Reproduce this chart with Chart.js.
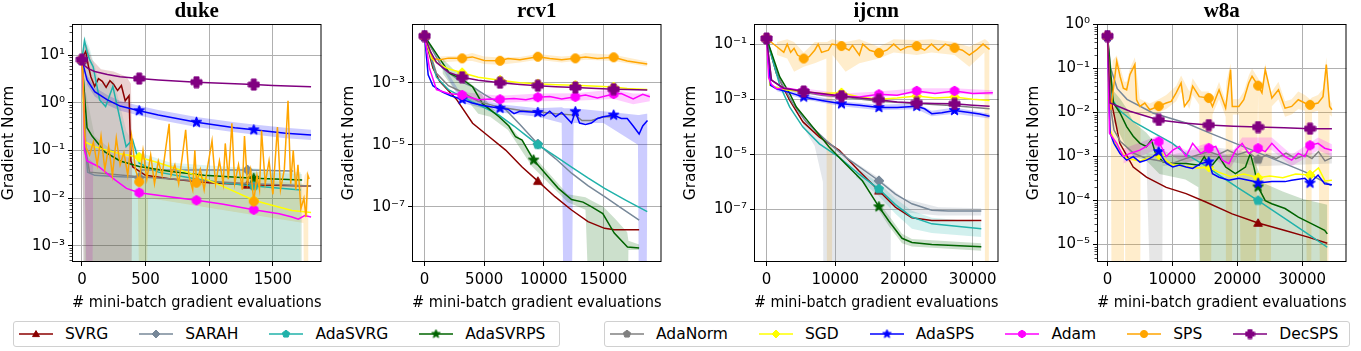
<!DOCTYPE html>
<html>
<head>
<meta charset="utf-8">
<title>Gradient Norm vs mini-batch gradient evaluations</title>
<script src="https://cdn.jsdelivr.net/npm/chart.js"></script>
<style>
    body { margin: 0; background: #fff; width: 1361px; height: 351px; overflow: hidden; position: relative; font-family: "DejaVu Sans", sans-serif; }
    .panel { position: absolute; top: 0; }
    .legend { position: absolute; top: 321px; height: 26px; border: 1px solid #d0d0d0; border-radius: 3px; display: flex; align-items: center; padding-left: 5px; box-sizing: border-box; background: #fff; }
    .item { display: flex; align-items: center; margin-right: 31px; font-size: 15.5px; color: #000; white-space: nowrap; }
    .item:last-child { margin-right: 0; }
    .item canvas { margin-right: 12px; }
</style>
</head>
<body>
<div class="panel" style="left:0px"><canvas id="duke" width="328" height="312"></canvas></div>
<div class="panel" style="left:340px"><canvas id="rcv1" width="328" height="312"></canvas></div>
<div class="panel" style="left:682px"><canvas id="ijcnn" width="323" height="312"></canvas></div>
<div class="panel" style="left:1025px"><canvas id="w8a" width="328" height="312"></canvas></div>
<div class="legend" id="legend1" style="left:13px; width:547px"></div>
<div class="legend" id="legend2" style="left:604px; width:746px"></div>

<script>
// methods, in plotting order
const names = ['SVRG', 'SARAH', 'AdaSVRG', 'AdaSVRPS', 'AdaNorm', 'SGD', 'AdaSPS', 'Adam', 'SPS', 'DecSPS'];
const colors = ['#8b0000', '#778899', '#20b2aa', '#006400', '#808080', '#ffff00', '#0000ff', '#ff00ff', '#ffa500', '#800080'];
const shapes = ['triangle', 'diamond', 'pentagon', 'star', 'pentagon', 'diamond', 'star', 'hexagon', 'circle', 'plus'];

// ---------- duke ----------
const dukeXTicks = [0, 500, 1000, 1500];
const dukeYTicks = [1e-3, 1e-2, 1e-1, 1e0, 1e1];
const duke_SVRG = [[0,8],[15,10],[30,12],[50,6],[70,3.5],[100,2.2],[130,3.2],[160,2.8],[190,2.1],[220,2.9],[250,2.4],[280,1.8],[310,2.3],[340,1.1],[370,1.4],[385,0.06],[400,0.045],[500,0.03],[700,0.025],[1000,0.021],[1300,0.019],[1800,0.018]];
const duke_SARAH = [[0,8],[20,1.5],[30,0.1],[45,0.035],[100,0.03],[300,0.028],[450,0.027],[470,0.039],[900,0.039],[1300,0.039],[1660,0.037]];
const duke_AdaSVRG = [[0,8],[20,20],[40,12],[60,8],[88,5.7],[139,1.14],[186,0.83],[243,2.2],[295,0.51],[347,0.12],[398,0.17],[450,0.054],[600,0.035],[900,0.025],[1100,0.021],[1350,0.018],[1720,0.0148]];
const duke_AdaSVRPS = [[0,8],[25,1],[40,0.3],[80,0.2],[180,0.093],[300,0.06],[450,0.046],[700,0.036],[960,0.03],[1350,0.026],[1730,0.024]];
const duke_AdaNorm = [[0,8],[20,0.5],[30,0.1],[60,0.035],[450,0.028],[900,0.023],[1350,0.02],[1800,0.018]];
const duke_SGD = [[0,8],[20,0.2],[26,0.15],[100,0.12],[200,0.1],[300,0.085],[450,0.072],[600,0.055],[900,0.03],[1100,0.018],[1350,0.009],[1500,0.007],[1650,0.0055],[1800,0.005]];
const duke_AdaSPS = [[0,8],[40,3.0],[100,1.7],[200,1.15],[300,0.85],[450,0.68],[600,0.55],[900,0.39],[1200,0.30],[1350,0.27],[1600,0.23],[1800,0.21]];
const duke_Adam = [[0,8],[15,1],[20,0.1],[40,0.06],[130,0.046],[260,0.024],[350,0.016],[450,0.013],[700,0.0105],[900,0.009],[1100,0.0075],[1350,0.0057],[1550,0.0047],[1650,0.004],[1700,0.0036],[1750,0.0043],[1800,0.004]];
const duke_SPS = [[0,8],[10,3],[20,0.3],[30,0.12],[60,0.08],[90,0.15],[120,0.05],[150,0.2],[180,0.04],[210,0.12],[240,0.03],[270,0.18],[300,0.05],[330,0.09],[360,0.03],[390,0.2],[420,0.04],[450,0.022],[480,0.1],[510,0.025],[540,0.08],[570,0.02],[600,0.06],[630,0.03],[660,0.12],[685,0.36],[700,0.03],[730,0.05],[760,0.02],[790,0.08],[815,0.27],[840,0.03],[870,0.015],[887,0.1],[900,0.021],[930,0.04],[960,0.015],[990,0.05],[1022,0.16],[1050,0.02],[1080,0.06],[1110,0.02],[1126,0.14],[1150,0.025],[1178,0.37],[1200,0.02],[1230,0.05],[1260,0.015],[1277,0.2],[1300,0.02],[1325,0.04],[1350,0.0085],[1375,0.03],[1395,0.015],[1411,0.26],[1440,0.02],[1470,0.06],[1500,0.012],[1536,0.31],[1560,0.015],[1590,0.04],[1619,1.1],[1640,0.02],[1660,0.1],[1680,0.015],[1697,0.05],[1720,0.006],[1744,0.01],[1760,0.004],[1775,0.03],[1785,0.025]];
const duke_DecSPS = [[0,8],[20,6],[50,5.2],[100,4.5],[200,3.9],[300,3.5],[450,3.2],[600,3.0],[900,2.7],[1200,2.5],[1350,2.4],[1500,2.3],[1800,2.15]];
const dukeMarks = [[0,1300],[0,450,1300],[0,1350],[0,1350],[0],[0,450,1350],[0,450,900,1350],[0,450,900,1350],[0,450,900,1350],[0,450,900,1350]];
// shaded bands: [x, low, high]
const duke_SVRG_band = [[0,6,10],[20,1e-6,18],[40,1e-6,16],[80,1e-6,8],[150,1e-6,5],[250,1e-6,4.5],[350,1e-6,3.5],[385,1e-6,2.5],[395,0.03,0.08]];
const duke_AdaSVRG_band = [[0,6,10],[20,1e-6,25],[60,1e-6,14],[140,1e-6,2.5],[250,1e-6,3],[350,1e-6,0.25],[450,1e-6,0.09],[700,1e-6,0.055],[1000,1e-6,0.048],[1350,1e-6,0.042],[1720,1e-6,0.035]];
const duke_AdaSVRPS_band = [[25,1e-6,2],[100,1e-6,0.2],[200,1e-6,0.12],[300,1e-6,0.08],[450,1e-6,0.06],[1000,1e-6,0.04],[1730,1e-6,0.032]];
const duke_AdaSPS_band = [[40,2.4,3.8],[100,1.35,2.1],[200,0.9,1.45],[300,0.68,1.08],[450,0.54,0.86],[600,0.44,0.7],[900,0.31,0.5],[1200,0.24,0.39],[1350,0.215,0.35],[1600,0.18,0.3],[1800,0.165,0.27]];
const duke_Adam_band = [[20,0.05,0.2],[50,1e-6,0.07],[75,1e-6,0.06],[90,0.035,0.055]];
const duke_SPS_band = [[440,0.01,0.04],[460,1e-6,0.06],[500,1e-6,0.05],[520,0.01,0.04],[1740,0.003,0.02],[1750,1e-6,0.03],[1780,1e-6,0.04]];

// ---------- rcv1 ----------
const rcv1XTicks = [0, 5000, 10000, 15000];
const rcv1YTicks = [1e-7, 1e-5, 1e-3];
const rcv1_SVRG = [[0,0.032],[700,0.003],[1270,0.0011],[2650,0.0003],[4030,0.000049],[5420,0.000018],[6800,0.0000067],[8180,0.0000019],[9500,0.00000067],[10940,0.00000021],[12330,0.000000078],[13710,0.000000033],[15100,0.00000002],[15910,0.000000018],[18000,0.000000018]];
const rcv1_SARAH = [[0,0.032],[1500,0.003],[3000,0.0011],[4000,0.00075],[5000,0.00042],[6330,0.00021],[8000,0.000045],[9500,0.0000105],[11000,0.0000035],[12330,0.0000012],[13700,0.00000048],[15100,0.00000021],[16600,0.000000085],[18000,0.000000037]];
const rcv1_AdaSVRG = [[0,0.032],[1000,0.0015],[2000,0.0006],[3150,0.00035],[4000,0.00024],[5140,0.00015],[6240,0.00009],[7500,0.00004],[8500,0.00002],[9500,0.00001],[11000,0.0000042],[12330,0.0000019],[13700,0.00000085],[15100,0.00000039],[16900,0.00000016],[18680,0.000000069]];
const rcv1_AdaSVRPS = [[0,0.032],[2100,0.002],[3150,0.0013],[4030,0.00074],[4860,0.00021],[5550,0.00013],[6240,0.00008],[7070,0.00004],[7630,0.000018],[8180,0.000014],[9150,0.0000032],[10110,0.0000012],[11220,0.00000039],[12330,0.00000017],[13290,0.00000014],[13980,0.0000001],[14950,0.00000006],[15910,0.000000014],[17020,0.000000005],[18000,0.0000000046]];
const rcv1_AdaNorm = [[0,0.032],[1000,0.002],[2000,0.0008],[3150,0.0005],[4500,0.00025],[6330,0.00016],[8000,0.00013],[9500,0.000115],[11000,0.0001],[12650,0.00009],[13200,0.00006],[14000,0.00006],[15000,0.00008],[16000,0.00008]];
const rcv1_SGD = [[0,0.032],[600,0.006],[1200,0.004],[2000,0.0028],[3150,0.0021],[4500,0.0015],[6330,0.0012],[8000,0.001],[9500,0.00092],[11000,0.00086],[12650,0.00082],[14000,0.00078],[15860,0.00072],[17000,0.00065],[18680,0.0006]];
const rcv1_AdaSPS = [[0,0.032],[300,0.0018],[700,0.0008],[1500,0.0005],[2200,0.00038],[3150,0.00029],[4000,0.00022],[5000,0.00018],[6330,0.00015],[7000,0.00014],[7500,0.0001],[8000,0.00012],[9500,0.00011],[10000,0.000085],[10500,0.00012],[11000,0.00008],[11500,0.00011],[12330,0.00005],[12650,0.000116],[13000,0.00005],[13500,0.000045],[14000,0.00005],[14500,0.00007],[15000,0.00008],[15860,0.00009],[16500,0.00007],[17000,0.00007],[17500,0.00004],[18000,0.000022],[18300,0.00004],[18700,0.00006]];
const rcv1_Adam = [[0,0.032],[400,0.003],[1000,0.0006],[2000,0.00045],[3150,0.0004],[4500,0.00028],[5500,0.0003],[6330,0.00029],[7500,0.00031],[8500,0.00028],[9500,0.00034],[10500,0.00036],[11500,0.0003],[12650,0.00035],[13500,0.0004],[14500,0.00032],[15860,0.00043],[16500,0.00045],[17500,0.0003],[18300,0.00042],[18900,0.00035]];
const rcv1_SPS = [[0,0.032],[700,0.006],[1300,0.0055],[2000,0.0062],[3150,0.0061],[4000,0.0068],[5000,0.0052],[6330,0.0051],[7000,0.006],[8000,0.0055],[9500,0.0069],[10500,0.006],[11500,0.0055],[12650,0.0061],[13500,0.0068],[14500,0.006],[15860,0.0066],[17000,0.005],[18680,0.004]];
const rcv1_DecSPS = [[0,0.032],[500,0.01],[1000,0.0045],[2000,0.0022],[3150,0.0015],[4500,0.0012],[6330,0.001],[8000,0.00088],[9500,0.0008],[11000,0.00074],[12650,0.0007],[14000,0.00066],[15860,0.00062],[17000,0.0006],[18680,0.00058]];
const rcv1Marks = [[0,9500],[0,9500],[0,9500],[0,9150],[0],[0,3150,6330,9500,12650,15860],[0,3150,6330,9500,12650,15860],[0,3150,6330,9500,12650,15860],[0,3150,6330,9500,12650,15860],[0,3150,6330,9500,12650,15860]];
const rcv1_AdaSVRPS_band = [[1500,0.002,0.006],[2500,0.0006,0.0025],[3500,0.0003,0.0012],[4500,0.0001,0.0006],[5500,0.00008,0.00018],[7000,0.00003,0.00005],[9000,0.000002,0.000005],[12000,0.00000014,0.00000025],[13500,0.00000008,0.0000002],[13950,1e-12,0.00000016],[15000,1e-12,0.0000001],[16000,1e-12,0.00000004],[17000,1e-12,0.000000015],[17100,0.000000004,0.000000008],[18000,0.000000004,0.000000006]];
const rcv1_AdaSPS_band = [[0,0.03,0.035],[3150,0.00022,0.00038],[6330,0.00011,0.0002],[9500,0.00008,0.00015],[11500,0.00005,0.00016],[11700,1e-12,0.00015],[12300,1e-12,0.00015],[12500,0.00005,0.00015],[15000,0.00005,0.00012],[17900,0.00001,0.00009],[18000,1e-12,0.00009],[18600,1e-12,0.0001],[18700,0.00003,0.0001]];
const rcv1_Adam_band = [[3150,0.0003,0.0005],[6330,0.00022,0.00038],[9500,0.00025,0.00045],[12650,0.00026,0.00046],[15860,0.0003,0.0006],[17500,0.0002,0.00045],[18900,0.00025,0.00045]];
const rcv1_SPS_band = [[1300,0.0045,0.007],[3150,0.005,0.0075],[4000,0.005,0.009],[5000,0.004,0.007],[6330,0.0038,0.0065],[8000,0.0045,0.0068],[9500,0.0055,0.0085],[11500,0.0045,0.007],[12650,0.005,0.0075],[13500,0.0055,0.009],[15860,0.005,0.008],[18680,0.0033,0.0048]];

// ---------- ijcnn ----------
const ijcnnXTicks = [0, 10000, 20000, 30000];
const ijcnnYTicks = [1e-7, 1e-5, 1e-3, 1e-1];
const ijcnn_SVRG = [[0,0.16],[1440,0.0085],[3370,0.00091],[5290,0.00015],[7690,0.000042],[10580,0.000014],[13460,0.0000025],[16350,0.00000048],[18750,0.00000012],[21150,0.00000005],[24040,0.00000004],[31250,0.00000004]];
const ijcnn_SARAH = [[0,0.16],[1920,0.0049],[3850,0.00068],[5770,0.00015],[8650,0.000032],[11540,0.0000078],[16350,0.0000011],[18750,0.00000036],[21150,0.00000016],[24040,0.000000094],[26440,0.000000087],[31250,0.000000087]];
const ijcnn_AdaSVRG = [[0,0.16],[1920,0.0032],[3370,0.00052],[5290,0.000097],[7690,0.000024],[10580,0.0000078],[13460,0.0000019],[16350,0.00000055],[18750,0.00000015],[21150,0.000000053],[24040,0.00000003],[31250,0.00000002]];
const ijcnn_AdaSVRPS = [[0,0.16],[1920,0.0064],[3370,0.0016],[4330,0.00052],[6730,0.000097],[9130,0.000018],[11540,0.0000044],[13940,0.0000011],[16350,0.000000125],[17790,0.000000038],[19710,0.000000009],[21150,0.0000000063],[24040,0.0000000054],[31250,0.0000000044]];
const ijcnn_AdaNorm = [[0,0.16],[700,0.005],[2500,0.0024],[5400,0.0018],[8000,0.0014],[10900,0.0012],[16350,0.00085],[21850,0.0007],[27350,0.00058],[32450,0.00045]];
const ijcnn_SGD = [[0,0.16],[480,0.0032],[2500,0.0022],[5400,0.0019],[8000,0.0016],[10900,0.0017],[13500,0.0012],[16350,0.001],[19000,0.0011],[21850,0.0013],[24500,0.0011],[27350,0.0012],[30000,0.001],[32450,0.0009]];
const ijcnn_AdaSPS = [[0,0.16],[580,0.0032],[1440,0.0024],[3500,0.0017],[5400,0.0012],[8000,0.0009],[10900,0.00068],[13500,0.0006],[16350,0.0005],[19000,0.0005],[21850,0.00055],[23000,0.00045],[24040,0.0003],[25500,0.00032],[27350,0.00039],[29500,0.00033],[31000,0.00029],[32450,0.00024]];
const ijcnn_Adam = [[0,0.16],[300,0.006],[700,0.0035],[1440,0.0024],[3000,0.0025],[5400,0.002],[8000,0.0015],[10900,0.0013],[13500,0.0012],[16350,0.0015],[19000,0.0014],[21850,0.002],[24500,0.0016],[27350,0.002],[30000,0.0016],[32930,0.0017]];
const ijcnn_SPS = [[0,0.16],[1500,0.08],[2500,0.05],[3000,0.1],[3500,0.05],[4000,0.07],[4500,0.04],[5400,0.03],[6200,0.035],[7000,0.06],[7500,0.1],[8000,0.05],[9000,0.06],[9500,0.1],[10900,0.085],[12000,0.06],[12500,0.09],[13500,0.04],[14000,0.1],[15000,0.06],[16350,0.048],[17500,0.06],[18500,0.1],[19500,0.06],[20500,0.08],[21850,0.085],[23000,0.06],[24000,0.1],[25000,0.06],[26000,0.1],[27350,0.073],[28500,0.06],[29500,0.04],[30500,0.06],[31500,0.1],[32450,0.064]];
const ijcnn_DecSPS = [[0,0.16],[720,0.0049],[2500,0.0025],[5400,0.0019],[8000,0.0016],[10900,0.0013],[13500,0.0011],[16350,0.00095],[19000,0.0008],[21850,0.00073],[24500,0.0007],[27350,0.00068],[30000,0.0006],[32450,0.00055]];
const ijcnnMarks = [[0,16350],[0,16350],[0,16350],[0,16350],[0],[0,5400,10900,16350,21850,27350],[0,5400,10900,16350,21850,27350],[0,5400,10900,16350,21850,27350],[0,5400,10900,16350,21850,27350],[0,5400,10900,16350,21850,27350]];
const ijcnn_SARAH_band = [[5300,0.0001,0.00022],[7000,0.00002,0.00008],[8200,0.000001,0.00004],[8300,1e-12,0.00004],[12000,1e-12,0.000007],[16000,1e-12,0.0000016],[18000,1e-12,0.0000006],[18100,0.00000015,0.0000006],[20000,0.00000008,0.00000025],[25000,0.00000006,0.00000012],[31250,0.00000006,0.00000011]];
const ijcnn_AdaSVRG_band = [[13000,0.0000015,0.0000035],[16350,0.0000003,0.0000009],[18750,0.00000007,0.00000025],[21150,0.00000002,0.00000009],[24040,0.000000014,0.00000005],[31250,0.00000001,0.000000035]];
const ijcnn_AdaSVRPS_band = [[16350,0.00000009,0.00000018],[17790,0.000000025,0.00000006],[19710,0.000000006,0.000000013],[21150,0.0000000045,0.0000000085],[31250,0.0000000032,0.000000006]];
const ijcnn_AdaSPS_band = [[1440,0.002,0.003],[5400,0.001,0.0015],[10900,0.00055,0.00085],[16350,0.0004,0.00063],[21850,0.00043,0.0007],[24040,0.00024,0.00038],[27350,0.0003,0.0005],[32450,0.0002,0.0003]];
const ijcnn_Adam_band = [[5400,0.0016,0.0025],[10900,0.001,0.0016],[16350,0.0012,0.0019],[21850,0.0016,0.0025],[27350,0.0016,0.0025],[32930,0.0014,0.0021]];
const ijcnn_SPS_band = [[1500,0.04,0.12],[3000,0.03,0.15],[4000,0.01,0.12],[5400,0.015,0.05],[7000,0.02,0.12],[8700,0.03,0.12],[8800,1e-12,0.12],[9500,1e-12,0.15],[9600,0.04,0.15],[11500,0.01,0.12],[13500,0.02,0.15],[16350,0.03,0.08],[18500,0.05,0.15],[21850,0.04,0.14],[24000,0.05,0.15],[27350,0.04,0.12],[29500,0.015,0.08],[31700,0.05,0.15],[31800,1e-12,0.15],[32300,1e-12,0.12],[32450,0.03,0.1]];

// ---------- w8a ----------
const w8aXTicks = [0, 10000, 20000, 30000];
const w8aYTicks = [1e-5, 1e-4, 1e-3, 1e-2, 1e-1, 1e0];
const w8a_SVRG = [[0,0.55],[700,0.015],[1900,0.002],[3965,0.00058],[6000,0.00034],[9050,0.0002],[12100,0.000144],[15150,0.000093],[19200,0.00005],[23200,0.000031],[27350,0.000021],[30900,0.0000148],[33860,0.0000107]];
const w8a_SARAH = [[0,0.55],[500,0.1],[1500,0.035],[3000,0.02],[7000,0.0098],[12100,0.0058],[15600,0.0035],[22270,0.0014],[30400,0.00045],[34470,0.00022]];
const w8a_AdaSVRG = [[0,0.55],[300,0.05],[700,0.02],[1930,0.011],[4000,0.0062],[7016,0.0035],[10000,0.002],[12100,0.00114],[15000,0.00063],[17184,0.00038],[20000,0.0002],[23200,0.0001],[27350,0.000039],[30500,0.000019],[33860,0.0000087]];
const w8a_AdaSVRPS = [[0,0.55],[915,0.0165],[1930,0.0098],[2950,0.0048],[3965,0.0029],[5000,0.002],[6000,0.0017],[6760,0.0024],[7400,0.00118],[8540,0.00076],[10000,0.0007],[12100,0.0007],[14100,0.00064],[14900,0.001],[15900,0.00058],[17200,0.001],[18200,0.00058],[19700,0.00041],[21250,0.00058],[22000,0.00118],[22600,0.00054],[23200,0.000204],[24300,0.0001],[25300,0.000085],[27350,0.000066],[29400,0.000042],[31400,0.00003],[33450,0.000021],[33860,0.0000175]];
const w8a_AdaNorm = [[0,0.55],[300,0.02],[1000,0.004],[2000,0.0022],[4000,0.0012],[6000,0.0009],[8000,0.0008],[10000,0.0007],[12000,0.0009],[14000,0.0011],[15560,0.0013],[17000,0.0011],[18500,0.0014],[20000,0.0011],[21500,0.0013],[23200,0.00086],[24500,0.0011],[26000,0.0009],[27500,0.0012],[29000,0.0009],[30500,0.0011],[31500,0.0009],[32500,0.0013],[33500,0.0008],[34570,0.00095]];
const w8a_SGD = [[0,0.55],[400,0.004],[1500,0.0016],[3000,0.0009],[5000,0.0008],[7900,0.0011],[10000,0.00065],[12000,0.0006],[14000,0.00055],[15600,0.00058],[17000,0.00045],[19000,0.00035],[21000,0.0004],[23200,0.00033],[25000,0.00036],[27000,0.00033],[29000,0.0004],[31200,0.00038],[32500,0.00055],[33500,0.00028],[34570,0.00029]];
const w8a_AdaSPS = [[0,0.55],[400,0.0034],[1000,0.002],[1930,0.00118],[2950,0.00083],[3965,0.001],[5000,0.00075],[6000,0.00083],[7000,0.001],[7900,0.0013],[9050,0.0007],[10070,0.00058],[11080,0.00064],[12100,0.00058],[13120,0.00054],[14390,0.0007],[15600,0.00076],[16170,0.00041],[17180,0.00034],[18700,0.00029],[20230,0.00032],[22270,0.00028],[23200,0.00025],[25320,0.00027],[27350,0.00027],[28370,0.00029],[30400,0.00032],[31200,0.00025],[32430,0.00038],[33450,0.00024],[34570,0.00023]];
const w8a_Adam = [[0,0.55],[305,0.0034],[1424,0.002],[2440,0.001],[3457,0.00118],[4982,0.0014],[6000,0.0017],[7016,0.0024],[7900,0.0022],[9050,0.001],[10066,0.0014],[11083,0.0017],[12100,0.001],[13117,0.002],[14387,0.00118],[15600,0.00155],[16675,0.0017],[17692,0.00083],[18709,0.00069],[19725,0.0014],[20742,0.002],[21759,0.00118],[23200,0.00155],[24301,0.0013],[25318,0.002],[26335,0.0014],[27351,0.001],[28368,0.00083],[29385,0.00118],[30402,0.001],[31200,0.0018],[32435,0.002],[33452,0.00155],[34570,0.0014]];
const w8a_SPS = [[0,0.55],[508,0.0116],[1424,0.148],[1932,0.067],[2440,0.036],[2949,0.033],[3457,0.073],[4220,0.124],[4474,0.0196],[4982,0.0138],[5745,0.0165],[6507,0.0116],[7900,0.014],[9049,0.0165],[9812,0.018],[10575,0.028],[11337,0.047],[11846,0.0138],[12608,0.0196],[13117,0.04],[14133,0.023],[15600,0.0214],[16167,0.0138],[17184,0.033],[18200,0.0126],[18963,0.095],[19217,0.0138],[20234,0.0138],[20996,0.0196],[21759,0.047],[22267,0.067],[23200,0.041],[23793,0.028],[24301,0.095],[25318,0.0214],[26335,0.033],[27351,0.0126],[28368,0.0138],[29385,0.0196],[30402,0.0165],[31200,0.015],[32435,0.0165],[33198,0.023],[33706,0.124],[34215,0.0138],[34570,0.0116]];
const w8a_DecSPS = [[0,0.55],[400,0.0165],[3460,0.0107],[7900,0.0068],[11700,0.0058],[15600,0.0052],[19400,0.0049],[23200,0.0047],[27200,0.0045],[31200,0.0043],[34570,0.0043]];
const w8aMarks = [[0,23200],[0],[0,23200],[0,23200],[0,23200],[0,7900,15600,23200,31200],[0,7900,15600,23200,31200],[0,7900,15600,23200,31200],[0,7900,15600,23200,31200],[0,7900,15600,23200,31200]];
const w8a_AdaSVRPS_band = [[1000,0.006,0.03],[2000,0.003,0.02],[3000,0.0015,0.012],[4000,0.001,0.006],[6000,0.0008,0.0035],[8000,0.0004,0.0015],[10000,0.00035,0.0011],[12000,0.0003,0.0011],[14000,0.0002,0.001],[15000,1e-12,0.0012],[18000,1e-12,0.0011],[21000,1e-12,0.0012],[22500,1e-12,0.0009],[24000,1e-12,0.00025],[27000,1e-12,0.00016],[30000,1e-12,0.00011],[33860,1e-12,0.00008]];
const w8a_AdaNorm_band = [[6000,0.0007,0.0012],[7800,1e-12,0.0011],[8300,1e-12,0.001],[8500,0.0006,0.001],[15600,0.0009,0.0017],[23200,0.0006,0.0012],[34570,0.0007,0.0012]];
const w8a_Adam_band = [[2440,0.0007,0.0015],[7900,0.0015,0.003],[12100,0.0007,0.0014],[15600,0.0011,0.0021],[18709,0.0005,0.001],[20742,0.0014,0.0027],[25318,0.0014,0.0027],[28368,0.0006,0.0011],[32435,0.0014,0.0027],[34570,0.001,0.0019]];
const w8a_SPS_band = [[508,0.008,0.02],[800,1e-12,0.15],[1424,1e-12,0.2],[2440,1e-12,0.06],[2600,0.02,0.05],[2949,1e-12,0.05],[3457,1e-12,0.1],[4220,1e-12,0.18],[4982,1e-12,0.02],[5100,0.009,0.02],[6507,0.008,0.016],[7900,0.01,0.02],[9049,0.012,0.025],[10575,0.018,0.04],[11337,0.03,0.07],[12608,0.012,0.03],[13117,0.025,0.06],[14133,0.015,0.035],[14500,1e-12,0.03],[15600,1e-12,0.03],[16167,0.009,0.02],[17184,0.02,0.05],[18200,0.008,0.018],[18300,1e-12,0.05],[18963,1e-12,0.13],[19300,0.009,0.02],[20234,0.009,0.02],[20996,1e-12,0.03],[21759,1e-12,0.07],[22267,1e-12,0.1],[23200,0.025,0.06],[23793,1e-12,0.04],[24301,1e-12,0.13],[24900,1e-12,0.03],[25318,0.014,0.03],[26335,0.02,0.05],[27351,0.008,0.018],[28368,0.009,0.02],[29385,0.012,0.03],[30402,0.011,0.025],[31200,1e-12,0.02],[31500,0.01,0.022],[32435,0.011,0.025],[33198,1e-12,0.035],[33706,1e-12,0.18],[34215,0.009,0.02],[34570,0.008,0.016]];

// ---------- helpers ----------
const SUP = {'-': '⁻', '0': '⁰', '1': '¹', '2': '²', '3': '³', '4': '⁴', '5': '⁵', '6': '⁶', '7': '⁷', '8': '⁸', '9': '⁹'};
function powLabel(v) {
    const e = Math.round(Math.log10(v));
    return '10' + String(e).split('').map(c => SUP[c]).join('');
}

function rgba(hex, a) {
    const n = parseInt(hex.slice(1), 16);
    return 'rgba(' + (n >> 16) + ',' + ((n >> 8) & 255) + ',' + (n & 255) + ',' + a + ')';
}

function polyPath(g, cx, cy, r, n, startDeg) {
    for (let i = 0; i < n; i++) {
        const a = (startDeg + i * 360 / n) * Math.PI / 180;
        const px = cx + r * Math.cos(a), py = cy + r * Math.sin(a);
        if (i === 0) g.moveTo(px, py); else g.lineTo(px, py);
    }
}

// marker glyphs drawn once, then used as pointStyle images
function markerCanvas(shape, color, size) {
    const c = document.createElement('canvas');
    c.width = c.height = size + 2;
    const g = c.getContext('2d');
    const r = size / 2, cx = c.width / 2, cy = c.height / 2;
    g.fillStyle = color;
    g.strokeStyle = color;
    g.lineWidth = 1;
    g.beginPath();
    if (shape === 'circle') {
        g.arc(cx, cy, r * 0.9, 0, 2 * Math.PI);
    } else if (shape === 'triangle') {
        polyPath(g, cx, cy + r * 0.15, r, 3, -90);
    } else if (shape === 'diamond') {
        polyPath(g, cx, cy, r, 4, -90);
    } else if (shape === 'pentagon') {
        polyPath(g, cx, cy, r * 0.95, 5, -90);
    } else if (shape === 'hexagon') {
        polyPath(g, cx, cy, r * 0.95, 6, -90);
    } else if (shape === 'star') {
        for (let i = 0; i < 10; i++) {
            const a = (-90 + i * 36) * Math.PI / 180;
            const rr = i % 2 === 0 ? r : r * 0.42;
            const px = cx + rr * Math.cos(a), py = cy + rr * Math.sin(a);
            if (i === 0) g.moveTo(px, py); else g.lineTo(px, py);
        }
    } else if (shape === 'plus') {
        const w = r * 0.45;
        g.moveTo(cx - w, cy - r); g.lineTo(cx + w, cy - r); g.lineTo(cx + w, cy - w);
        g.lineTo(cx + r, cy - w); g.lineTo(cx + r, cy + w); g.lineTo(cx + w, cy + w);
        g.lineTo(cx + w, cy + r); g.lineTo(cx - w, cy + r); g.lineTo(cx - w, cy + w);
        g.lineTo(cx - r, cy + w); g.lineTo(cx - r, cy - w); g.lineTo(cx - w, cy - w);
    }
    g.closePath();
    g.fill();
    g.stroke();
    return c;
}

const markerImgs = shapes.map((s, i) => markerCanvas(s, colors[i], s === 'star' || s === 'plus' ? 11 : 10));
const legendImgs = shapes.map((s, i) => markerCanvas(s, colors[i], s === 'star' || s === 'plus' ? 9 : 8));

const framePlugin = {
    id: 'frame',
    afterDatasetsDraw(chart) {
        const {ctx, chartArea: a} = chart;
        ctx.save();
        ctx.strokeStyle = '#000';
        ctx.lineWidth = 1;
        ctx.strokeRect(a.left + 0.5, a.top + 0.5, a.right - a.left - 1, a.bottom - a.top - 1);
        ctx.restore();
    }
};

function titlePlugin(text) {
    return {
        id: 'panelTitle',
        afterDraw(chart) {
            const {ctx, chartArea: a} = chart;
            ctx.save();
            ctx.font = 'bold 21px "Liberation Serif"';
            ctx.fillStyle = '#000';
            ctx.textAlign = 'center';
            ctx.textBaseline = 'alphabetic';
            ctx.fillText(text, (a.left + a.right) / 2, 17);
            ctx.restore();
        }
    };
}

const minorTicksPlugin = {
    id: 'minorTicks',
    afterDraw(chart) {
        const {ctx, chartArea: a} = chart;
        const y = chart.scales.y;
        ctx.save();
        ctx.strokeStyle = '#000';
        ctx.lineWidth = 0.7;
        for (let e = Math.floor(Math.log10(y.min)); e <= Math.ceil(Math.log10(y.max)); e++) {
            for (let k = 2; k <= 9; k++) {
                const v = k * Math.pow(10, e);
                if (v < y.min || v > y.max) continue;
                const py = Math.round(y.getPixelForValue(v)) + 0.5;
                ctx.beginPath();
                ctx.moveTo(a.left, py);
                ctx.lineTo(a.left - 2.5, py);
                ctx.stroke();
            }
        }
        ctx.restore();
    }
};

function buildPanel(id, title, series, marks, bands, xTicks, yTicks, xmin, xmax, ymin, ymax, minor) {
    const datasets = [];
    bands.forEach((b, k) => {
        const loIdx = datasets.length;
        datasets.push({
            data: b.data.map(p => ({x: p[0], y: p[1]})),
            borderWidth: 0, pointRadius: 0, fill: false, order: 1000 + 2 * k
        });
        datasets.push({
            data: b.data.map(p => ({x: p[0], y: p[2]})),
            borderWidth: 0, pointRadius: 0, fill: loIdx,
            backgroundColor: rgba(colors[b.s], b.a || 0.2), order: 1000 + 2 * k + 1
        });
    });
    series.forEach((s, i) => {
        const m = marks[i];
        datasets.push({
            label: names[i],
            data: s.map(p => ({x: p[0], y: p[1]})),
            borderColor: colors[i],
            backgroundColor: colors[i],
            borderWidth: 1.5,
            tension: 0,
            fill: false,
            pointStyle: markerImgs[i],
            pointRadius: c => (c.raw && m.includes(c.raw.x)) ? 5 : 0,
            pointHoverRadius: 0,
            order: 100 - i
        });
    });

    const tickFont = {family: 'DejaVu Sans', size: 15};
    const labelFont = {family: 'DejaVu Sans', size: 15.5};
    const plugins = [framePlugin, titlePlugin(title)];
    if (minor) plugins.push(minorTicksPlugin);

    new Chart(document.getElementById(id).getContext('2d'), {
        type: 'line',
        data: {datasets: datasets},
        options: {
            responsive: false,
            animation: false,
            events: [],
            layout: {padding: {top: 24, right: 4, left: 0, bottom: 0}},
            plugins: {legend: {display: false}, tooltip: {enabled: false}, title: {display: false}},
            scales: {
                x: {
                    type: 'linear', min: xmin, max: xmax,
                    afterBuildTicks: s => { s.ticks = xTicks.map(v => ({value: v})); },
                    afterFit: s => { s.height = 50; },
                    ticks: {callback: v => String(v), font: tickFont, color: '#000', padding: 5, maxRotation: 0, autoSkip: false},
                    grid: {color: '#b0b0b0', lineWidth: 1, tickColor: '#000', tickLength: 4},
                    border: {display: false},
                    title: {display: true, text: '# mini-batch gradient evaluations', font: labelFont, color: '#000', padding: 0}
                },
                y: {
                    type: 'logarithmic', min: ymin, max: ymax,
                    afterBuildTicks: s => { s.ticks = yTicks.map(v => ({value: v})); },
                    afterFit: s => { s.width = 72; },
                    ticks: {callback: v => powLabel(v), font: tickFont, color: '#000', padding: 3, autoSkip: false},
                    grid: {color: '#b0b0b0', lineWidth: 1, tickColor: '#000', tickLength: 4},
                    border: {display: false},
                    title: {display: true, text: 'Gradient Norm', font: labelFont, color: '#000', padding: 0}
                }
            }
        },
        plugins: plugins
    });
}

buildPanel('duke', 'duke',
    [duke_SVRG, duke_SARAH, duke_AdaSVRG, duke_AdaSVRPS, duke_AdaNorm, duke_SGD, duke_AdaSPS, duke_Adam, duke_SPS, duke_DecSPS],
    dukeMarks,
    [{s: 0, data: duke_SVRG_band, a: 0.18}, {s: 2, data: duke_AdaSVRG_band, a: 0.15}, {s: 3, data: duke_AdaSVRPS_band, a: 0.1},
     {s: 6, data: duke_AdaSPS_band}, {s: 7, data: duke_Adam_band}, {s: 8, data: duke_SPS_band}],
    dukeXTicks, dukeYTicks, -78, 1882, 4.57e-4, 44.7, true);

buildPanel('rcv1', 'rcv1',
    [rcv1_SVRG, rcv1_SARAH, rcv1_AdaSVRG, rcv1_AdaSVRPS, rcv1_AdaNorm, rcv1_SGD, rcv1_AdaSPS, rcv1_Adam, rcv1_SPS, rcv1_DecSPS],
    rcv1Marks,
    [{s: 3, data: rcv1_AdaSVRPS_band}, {s: 6, data: rcv1_AdaSPS_band}, {s: 7, data: rcv1_Adam_band}, {s: 8, data: rcv1_SPS_band}],
    rcv1XTicks, rcv1YTicks, -1055, 19875, 1.64e-9, 0.0783, false);

buildPanel('ijcnn', 'ijcnn',
    [ijcnn_SVRG, ijcnn_SARAH, ijcnn_AdaSVRG, ijcnn_AdaSVRPS, ijcnn_AdaNorm, ijcnn_SGD, ijcnn_AdaSPS, ijcnn_Adam, ijcnn_SPS, ijcnn_DecSPS],
    ijcnnMarks,
    [{s: 1, data: ijcnn_SARAH_band}, {s: 2, data: ijcnn_AdaSVRG_band}, {s: 3, data: ijcnn_AdaSVRPS_band},
     {s: 6, data: ijcnn_AdaSPS_band}, {s: 7, data: ijcnn_Adam_band}, {s: 8, data: ijcnn_SPS_band}],
    ijcnnXTicks, ijcnnYTicks, -1832, 33750, 1.24e-9, 0.536, false);

buildPanel('w8a', 'w8a',
    [w8a_SVRG, w8a_SARAH, w8a_AdaSVRG, w8a_AdaSVRPS, w8a_AdaNorm, w8a_SGD, w8a_AdaSPS, w8a_Adam, w8a_SPS, w8a_DecSPS],
    w8aMarks,
    [{s: 3, data: w8a_AdaSVRPS_band}, {s: 4, data: w8a_AdaNorm_band}, {s: 7, data: w8a_Adam_band}, {s: 8, data: w8a_SPS_band}],
    w8aXTicks, w8aYTicks, -1617, 36815, 4.02e-6, 1.032, true);

// legends: variance-reduced methods left, the rest right
function legendItem(i) {
    const div = document.createElement('div');
    div.className = 'item';
    const c = document.createElement('canvas');
    c.width = 34;
    c.height = 14;
    const g = c.getContext('2d');
    g.strokeStyle = colors[i];
    g.lineWidth = 1.5;
    g.beginPath();
    g.moveTo(0, 7);
    g.lineTo(34, 7);
    g.stroke();
    const m = legendImgs[i];
    g.drawImage(m, 17 - m.width / 2, 7 - m.height / 2);
    div.appendChild(c);
    const sp = document.createElement('span');
    sp.textContent = names[i];
    div.appendChild(sp);
    return div;
}
[0, 1, 2, 3].forEach(i => document.getElementById('legend1').appendChild(legendItem(i)));
[4, 5, 6, 7, 8, 9].forEach(i => document.getElementById('legend2').appendChild(legendItem(i)));
</script>
</body>
</html>
